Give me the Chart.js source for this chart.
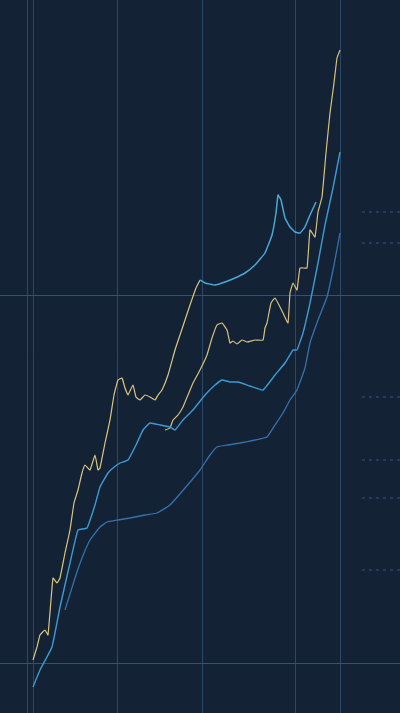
<!DOCTYPE html>
<html>
<head>
<meta charset="utf-8">
<script src="https://cdn.jsdelivr.net/npm/chart.js@4/dist/chart.umd.min.js"></script>
<style>
  html, body { margin: 0; padding: 0; background: #142236; }
  #wrap { width: 400px; height: 713px; }
</style>
</head>
<body>
<div id="wrap"><canvas id="myChart"></canvas></div>
<script>
// series (x = time, y = value)
const goldX = [33, 37, 40, 45, 48, 53, 57, 60, 65, 70, 74, 78, 82, 85, 90, 95, 98, 100, 105, 110, 114, 118, 122, 125, 128, 133, 136, 140, 145, 150, 155, 158, 162, 168, 175, 180, 185, 190, 196, 200];
const goldY = [53, 66, 78, 83, 78, 135, 130, 135, 160, 183, 210, 223, 240, 248, 243, 258, 243, 245, 270, 293, 318, 333, 335, 325, 318, 328, 316, 313, 318, 316, 313, 318, 323, 338, 363, 378, 393, 408, 425, 433];
const skyX = [200, 205, 215, 225, 235, 245, 255, 265, 272, 276, 278, 281, 285, 290, 295, 300, 305, 310, 316];
const skyY = [433, 430, 428, 431, 435, 440, 448, 460, 478, 500, 518, 513, 495, 486, 481, 480, 486, 498, 511];
const gold2X = [165, 170, 173, 178, 183, 188, 193, 200, 207, 212, 217, 222, 227, 230, 233, 237, 242, 247, 255, 263, 265, 267, 271, 275, 279, 283, 288, 290, 293, 297, 300, 307, 310, 315, 318, 322, 326, 330, 334, 337, 340];
const gold2Y = [283, 285, 293, 298, 306, 318, 330, 343, 358, 375, 388, 390, 383, 370, 372, 369, 373, 371, 373, 373, 385, 390, 410, 415, 408, 400, 390, 420, 430, 423, 445, 445, 483, 476, 501, 516, 560, 600, 630, 655, 663];
const blueX = [33, 40, 52, 60, 70, 78, 87, 95, 100, 108, 113, 120, 128, 136, 143, 150, 160, 170, 175, 183, 193, 205, 215, 222, 230, 238, 250, 263, 275, 285, 293, 297, 303, 310, 318, 325, 333, 340];
const blueY = [26, 43, 66, 106, 150, 183, 185, 208, 226, 240, 245, 250, 253, 268, 283, 290, 288, 286, 283, 293, 303, 318, 328, 333, 331, 331, 327, 323, 338, 350, 363, 363, 380, 410, 450, 488, 525, 561];
const navyX = [65, 75, 82, 90, 100, 107, 118, 130, 145, 157, 170, 185, 200, 210, 217, 228, 240, 255, 267, 275, 283, 290, 297, 305, 310, 318, 327, 334, 340];
const navyY = [103, 135, 155, 173, 186, 191, 193, 195, 198, 200, 208, 225, 243, 258, 266, 268, 270, 273, 276, 288, 300, 313, 323, 345, 370, 393, 416, 448, 480];
// little dashed tick marks on the right
const markY = [501, 470, 316, 253, 215, 143];

const pts = (xs, ys) => xs.map((x, i) => ({ x: x, y: ys[i] }));

const lines = [
  { data: pts(blueX, blueY), borderColor: "#3d9bd2", borderWidth: 1.4 },
  { data: pts(navyX, navyY), borderColor: "#3771ab", borderWidth: 1.3 },
  { data: pts(skyX, skyY), borderColor: "#4aa8d6", borderWidth: 1.5 },
  { data: pts(gold2X, gold2Y), borderColor: "#d8c27c", borderWidth: 1.2 },
  { data: pts(goldX, goldY), borderColor: "#dcc77e", borderWidth: 1.2 },
];
markY.forEach(function (y) {
  lines.push({ data: [{ x: 362, y: y }, { x: 400, y: y }], borderColor: "#3f566f", borderWidth: 1, borderDash: [3, 4] });
});
lines.forEach(function (d) { d.pointRadius = 0; d.tension = 0.1; d.showLine = true; });

const gridX = [27, 33, 117, 203, 295, 340];
const gridY = [50, 418];

const config = {
  type: "scatter",
  data: { datasets: lines },
  options: {
    responsive: true,
    maintainAspectRatio: false,
    animation: false,
    layout: { padding: 0 },
    plugins: { legend: false, tooltip: { enabled: false } },
    scales: {
      x: {
        type: "linear", min: 0, max: 400,
        afterBuildTicks: (s) => { s.ticks = gridX.map(v => ({ value: v })); },
        ticks: { display: false },
        grid: { color: "#2c4868", lineWidth: 1, drawTicks: false },
        border: { display: false },
      },
      y: {
        type: "linear", min: 0, max: 713,
        afterBuildTicks: (s) => { s.ticks = gridY.map(v => ({ value: v })); },
        ticks: { display: false },
        grid: { color: "#34516f", lineWidth: 1, drawTicks: false },
        border: { display: false },
      },
    },
  },
};

let chart = new Chart(document.getElementById("myChart").getContext("2d"), config);
</script>
</body>
</html>
